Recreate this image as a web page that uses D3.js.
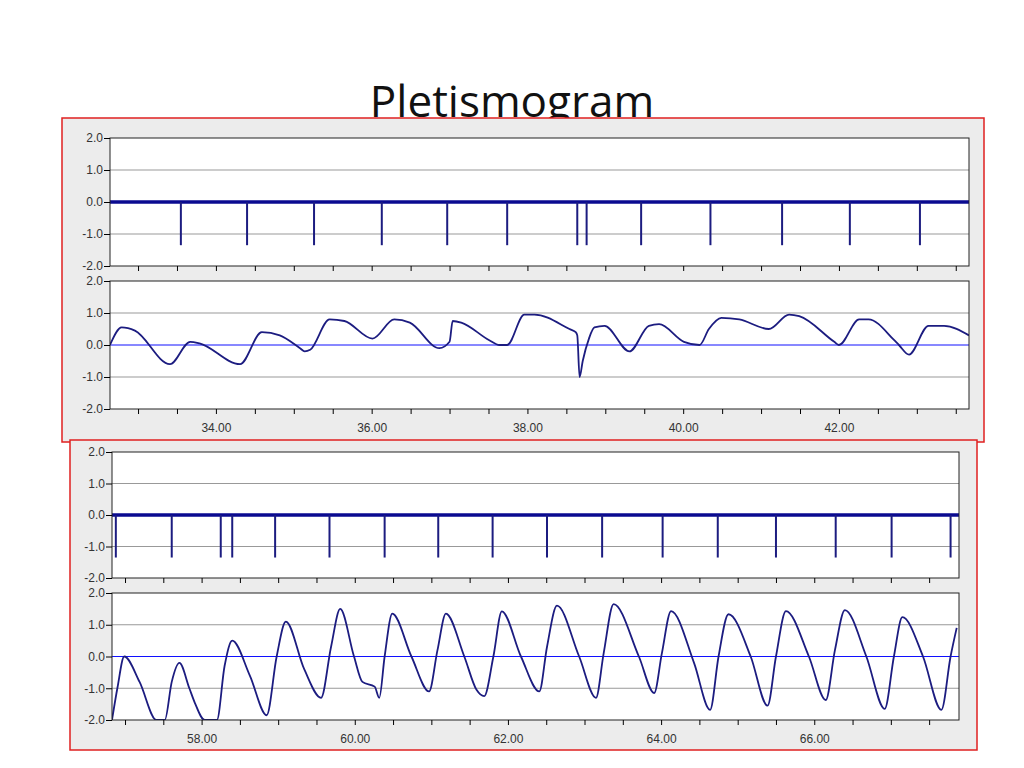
<!DOCTYPE html>
<html>
<head>
<meta charset="utf-8">
<script src="https://cdn.jsdelivr.net/npm/d3@7"></script>
<style>
  body { margin: 0; background: #fff; }
  text { font-family: "Liberation Sans", Arial, sans-serif; }
</style>
</head>
<body>
<svg width="1024" height="768"></svg>
<script>
// y ticks shared by all four panels
const yTicks = [2.0, 1.0, 0.0, -1.0, -2.0];

// recording 1 (top box)
const beats1 = [33.55, 34.40, 35.26, 36.13, 36.97, 37.74, 38.64, 38.76, 39.46, 40.35, 41.27, 42.14, 43.04];
const ppgT1 = [32.64, 32.79, 32.96, 33.41, 33.67, 33.79, 34.31, 34.59, 34.82, 35.08, 35.14, 35.21, 35.46, 35.65, 36.01, 36.29, 36.49, 36.87, 37.00, 37.04, 37.15, 37.51, 37.64, 37.74, 37.96, 38.09, 38.54, 38.62, 38.64, 38.67, 38.71, 38.79, 38.86, 38.99, 39.31, 39.56, 39.69, 40.01, 40.21, 40.33, 40.49, 40.72, 41.10, 41.36, 41.49, 41.94, 42.00, 42.26, 42.38, 42.71, 42.77, 42.90, 43.15, 43.35, 43.67];
const ppgV1 = [0.0, 0.55, 0.45, -0.6, 0.1, 0.05, -0.6, 0.4, 0.3, -0.1, -0.2, -0.15, 0.8, 0.75, 0.2, 0.8, 0.7, -0.1, 0.1, 0.75, 0.7, 0.15, 0.0, 0.0, 0.95, 0.95, 0.5, 0.4, 0.3, -1.0, -0.5, 0.2, 0.55, 0.6, -0.2, 0.6, 0.65, 0.1, 0.0, 0.5, 0.85, 0.8, 0.5, 0.95, 0.9, 0.1, 0.0, 0.8, 0.8, 0.15, 0.0, -0.3, 0.6, 0.6, 0.3];
const xTicks1 = [34, 36, 38, 40, 42];

// recording 2 (bottom box)
const beats2 = [56.88, 57.61, 58.25, 58.40, 58.96, 59.67, 60.39, 61.09, 61.80, 62.51, 63.23, 64.02, 64.74, 65.50, 66.28, 67.01, 67.78];
const ppgT2 = [56.83, 56.90, 56.99, 57.19, 57.41, 57.52, 57.61, 57.71, 57.84, 57.91, 58.04, 58.20, 58.30, 58.40, 58.63, 58.85, 58.98, 59.10, 59.34, 59.56, 59.69, 59.81, 59.99, 60.10, 60.26, 60.32, 60.39, 60.49, 60.74, 60.97, 61.08, 61.19, 61.43, 61.59, 61.69, 61.81, 61.92, 62.17, 62.41, 62.51, 62.64, 62.93, 63.15, 63.25, 63.38, 63.71, 63.91, 64.01, 64.13, 64.43, 64.64, 64.75, 64.88, 65.17, 65.39, 65.50, 65.63, 65.93, 66.15, 66.27, 66.40, 66.68, 66.92, 67.04, 67.15, 67.42, 67.66, 67.78, 67.86];
const ppgV2 = [-2.0, -1.0, 0.0, -0.8, -2.0, -2.0, -0.8, -0.2, -1.0, -1.45, -2.0, -2.0, -0.3, 0.5, -0.6, -1.85, 0.0, 1.1, -0.4, -1.3, 0.3, 1.5, 0.0, -0.8, -0.95, -1.3, 0.0, 1.35, 0.0, -1.1, 0.2, 1.35, 0.0, -1.05, -1.25, 0.0, 1.42, 0.0, -1.1, 0.3, 1.6, 0.0, -1.3, 0.1, 1.65, 0.0, -1.15, 0.1, 1.43, -0.2, -1.68, 0.0, 1.33, 0.0, -1.55, 0.0, 1.43, 0.0, -1.37, 0.2, 1.46, 0.0, -1.65, 0.0, 1.24, 0.0, -1.68, 0.0, 0.9];
const xTicks2 = [58, 60, 62, 64, 66];

const spikeDepth = -1.35;
const navy = "#1c1c80";
const svg = d3.select("svg");
const fmt1 = d => d.toFixed(1);
const fmt2 = d => d.toFixed(2);

svg.append("text")
  .attr("x", 512).attr("y", 117)
  .attr("text-anchor", "middle")
  .style("font-family", "'Open Sans', sans-serif")
  .style("font-size", "44px")
  .attr("fill", "#111")
  .text("Pletismogram");

let clipId = 0;

function panel(g, x, top, bottom, drawFn, labels, xTicks) {
  const y = d3.scaleLinear().domain([-2, 2]).range([bottom, top]);
  const [x0, x1] = x.range();
  g.append("rect").attr("x", x0).attr("y", top).attr("width", x1 - x0).attr("height", bottom - top)
    .attr("fill", "#fff");
  g.selectAll(".grid").data([1, -1]).enter().append("line")
    .attr("x1", x0).attr("x2", x1).attr("y1", d => y(d)).attr("y2", d => y(d))
    .attr("stroke", "#999").attr("stroke-width", 1);
  const id = "clip" + (clipId++);
  g.append("clipPath").attr("id", id).append("rect")
    .attr("x", x0).attr("y", top).attr("width", x1 - x0).attr("height", bottom - top);
  const inner = g.append("g").attr("clip-path", `url(#${id})`);
  drawFn(inner, y);
  g.append("rect").attr("x", x0).attr("y", top).attr("width", x1 - x0).attr("height", bottom - top)
    .attr("fill", "none").attr("stroke", "#222").attr("stroke-width", 1);
  // y axis
  const ya = g.append("g").attr("transform", `translate(${x0},0)`)
    .call(d3.axisLeft(y).tickValues(yTicks).tickSize(6).tickPadding(1).tickFormat(fmt1));
  ya.select(".domain").remove();
  ya.selectAll("text").attr("fill", "#333").style("font-size", "12px");
  // x axis minor ticks every 0.5
  const [d0, d1] = x.domain();
  const minor = d3.range(Math.ceil(d0 * 2) / 2, d1, 0.5);
  const xa = g.append("g").attr("transform", `translate(0,${bottom})`)
    .call(d3.axisBottom(x).tickValues(minor).tickSize(5)
      .tickFormat(d => labels && xTicks.includes(d) ? fmt2(d) : ""));
  xa.select(".domain").remove();
  xa.selectAll("text").attr("fill", "#333").style("font-size", "12px").attr("dy", "1.25em");
}

function ecg(beats) {
  return (g, y) => {
    const x = g.xScale;
    g.append("line").attr("x1", x.range()[0]).attr("x2", x.range()[1])
      .attr("y1", y(0)).attr("y2", y(0)).attr("stroke", "#0a0a90").attr("stroke-width", 3.5);
    g.selectAll(".beat").data(beats).enter().append("line")
      .attr("x1", d => x(d)).attr("x2", d => x(d))
      .attr("y1", y(0)).attr("y2", y(spikeDepth))
      .attr("stroke", navy).attr("stroke-width", 2);
  };
}

function ppg(ts, vs) {
  return (g, y) => {
    const x = g.xScale;
    g.append("line").attr("x1", x.range()[0]).attr("x2", x.range()[1])
      .attr("y1", y(0)).attr("y2", y(0)).attr("stroke", "#1010ff").attr("stroke-width", 1);
    const pts = ts.map((t, i) => [t, vs[i]]);
    g.append("path").datum(pts)
      .attr("d", d3.line().x(d => x(d[0])).y(d => y(d[1])).curve(d3.curveMonotoneX))
      .attr("fill", "none").attr("stroke", navy).attr("stroke-width", 1.8);
  };
}

function recording(box, xDomain, xRange, p1, p2, beats, ts, vs, xTicks) {
  const g = svg.append("g");
  g.append("rect").attr("x", box[0]).attr("y", box[1]).attr("width", box[2] - box[0]).attr("height", box[3] - box[1])
    .attr("fill", "#ececec").attr("stroke", "#e02020").attr("stroke-width", 1.5);
  const x = d3.scaleLinear().domain(xDomain).range(xRange);
  const wrap = fn => (inner, y) => { inner.xScale = x; fn(inner, y); };
  panel(g, x, p1[0], p1[1], wrap(ecg(beats)), false, xTicks);
  panel(g, x, p2[0], p2[1], wrap(ppg(ts, vs)), true, xTicks);
}

recording([62, 118, 984, 442], [32.64, 43.67], [110, 969], [138, 266], [281, 409], beats1, ppgT1, ppgV1, xTicks1);
recording([70, 440, 977, 750], [56.83, 67.89], [112, 959], [452, 578], [593, 720], beats2, ppgT2, ppgV2, xTicks2);
</script>
</body>
</html>
